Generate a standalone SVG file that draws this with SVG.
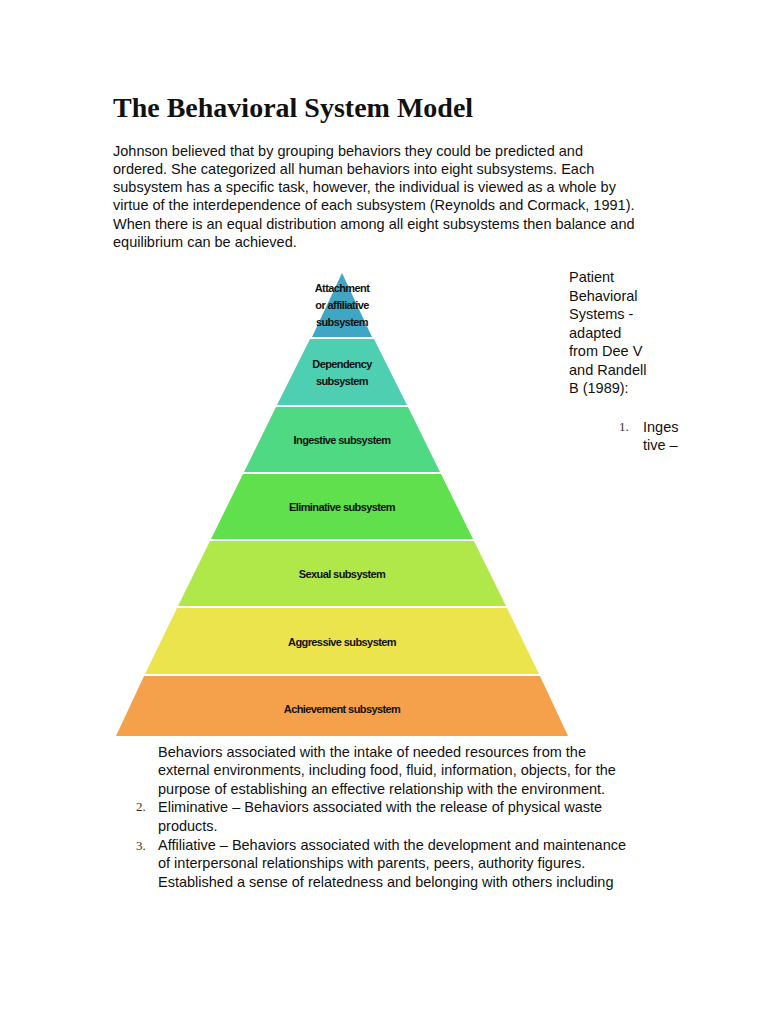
<svg xmlns="http://www.w3.org/2000/svg" width="768" height="1024" viewBox="0 0 768 1024">
<style>
.b{font-family:"Liberation Sans",Arial,sans-serif;font-size:14.5px;fill:#111}
.n{font-family:"Liberation Serif",serif;font-size:13px;fill:#333}
.l{font-family:"Liberation Sans",Arial,sans-serif;font-weight:bold;font-size:11px;fill:#111;text-anchor:middle;letter-spacing:-0.6px}
</style>
<rect width="768" height="1024" fill="#fff"/>
<text x="113" y="117" font-family="Liberation Serif,serif" font-weight="bold" font-size="28" fill="#111">The Behavioral System Model</text>
<g class="b">
<text x="113" y="156">Johnson believed that by grouping behaviors they could be predicted and</text>
<text x="113" y="174">ordered. She categorized all human behaviors into eight subsystems. Each</text>
<text x="113" y="192">subsystem has a specific task, however, the individual is viewed as a whole by</text>
<text x="113" y="210">virtue of the interdependence of each subsystem (Reynolds and Cormack, 1991).</text>
<text x="113" y="229">When there is an equal distribution among all eight subsystems then balance and</text>
<text x="113" y="247">equilibrium can be achieved.</text>
<text x="569" y="282">Patient</text>
<text x="569" y="301">Behavioral</text>
<text x="569" y="319">Systems -</text>
<text x="569" y="338">adapted</text>
<text x="569" y="356">from Dee V</text>
<text x="569" y="375">and Randell</text>
<text x="569" y="393">B (1989):</text>
<text x="643" y="432">Inges</text>
<text x="643" y="450">tive –</text>
<text x="158" y="757">Behaviors associated with the intake of needed resources from the</text>
<text x="158" y="775">external environments, including food, fluid, information, objects, for the</text>
<text x="158" y="794">purpose of establishing an effective relationship with the environment.</text>
<text x="158" y="812">Eliminative – Behaviors associated with the release of physical waste</text>
<text x="158" y="831">products.</text>
<text x="158" y="850">Affiliative – Behaviors associated with the development and maintenance</text>
<text x="158" y="868">of interpersonal relationships with parents, peers, authority figures.</text>
<text x="158" y="887">Established a sense of relatedness and belonging with others including</text>
</g>
<text class="n" x="619" y="431">1.</text>
<text class="n" x="136" y="811">2.</text>
<text class="n" x="136" y="850">3.</text>
<g id="layer1"><polygon points="342,273 372,337 312,337" fill="#3fa6c4"/><text class="l" x="342" y="292">Attachment</text><text class="l" x="342" y="309">or affiliative</text><text class="l" x="342" y="326">subsystem</text></g>
<g id="layer2"><polygon points="310,339 374,339 407,405 277,405" fill="#4ecfb2"/><text class="l" x="342" y="368">Dependency</text><text class="l" x="342" y="385">subsystem</text></g>
<g id="layer3"><polygon points="276,407 408,407 440,472 244,472" fill="#4fd982"/><text class="l" x="342" y="444">Ingestive subsystem</text></g>
<g id="layer4"><polygon points="243,474 441,474 473,539 211,539" fill="#5fe04c"/><text class="l" x="342" y="511">Eliminative subsystem</text></g>
<g id="layer5"><polygon points="210,541 474,541 506,606 178,606" fill="#b0e84a"/><text class="l" x="342" y="578">Sexual subsystem</text></g>
<g id="layer6"><polygon points="177,608 507,608 539,674 145,674" fill="#ece44c"/><text class="l" x="342" y="646">Aggressive subsystem</text></g>
<g id="layer7"><polygon points="144,676 540,676 568,736 116,736" fill="#f5a04b"/><text class="l" x="342" y="713">Achievement subsystem</text></g>
</svg>
